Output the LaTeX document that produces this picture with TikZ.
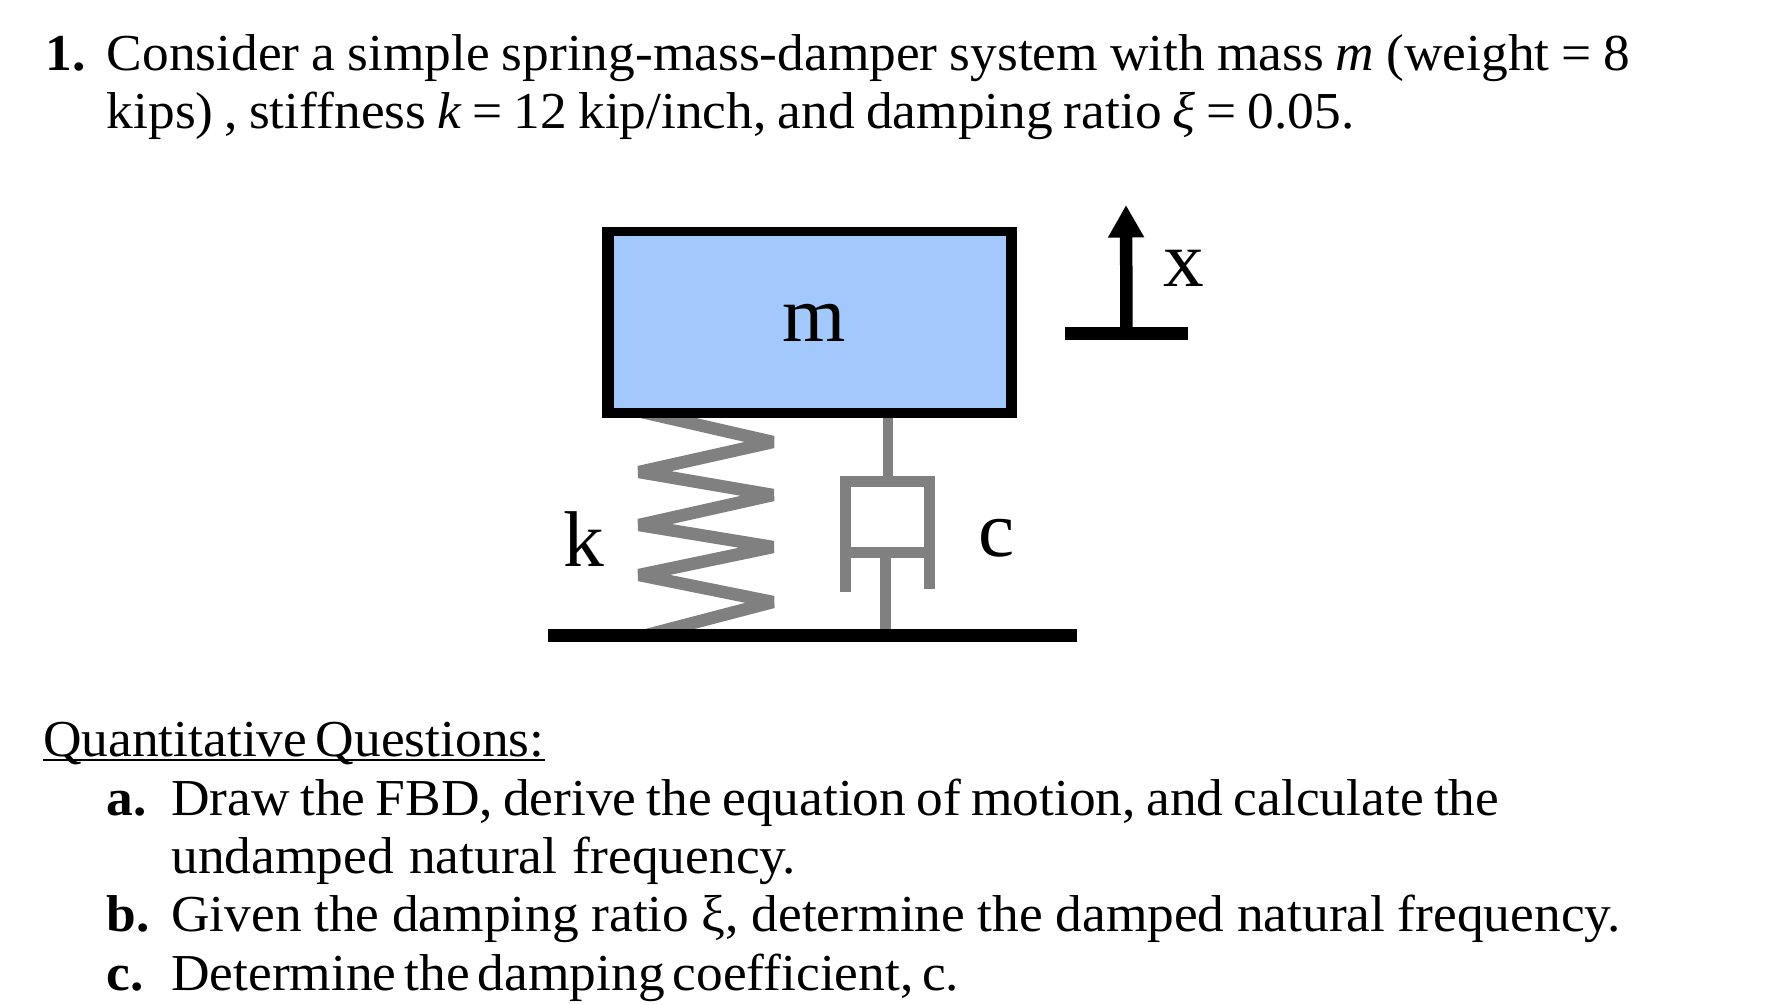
\documentclass[tikz,border=0pt]{standalone}
\usepackage{fontspec}
\setmainfont[FakeStretch=1.03,WordSpace=0.9]{Liberation Serif}
\usetikzlibrary{arrows.meta,backgrounds}
\newcommand{\fitline}[2]{\makebox[#1][s]{#2}}

\begin{document}
\begin{tikzpicture}[x=0.02cm,y=-0.02cm]
\tikzset{txt/.style={anchor=base west, inner sep=0pt, font=\fontsize{29.5}{33}\selectfont}}
\tikzset{lab/.style={anchor=base, inner sep=0pt, font=\fontsize{45}{45}\selectfont}}
\tikzset{bar/.style={fill=black, inner sep=0pt}}
\tikzset{grayline/.style={draw=black!50, line width=0.21cm}}
\useasboundingbox (0,0) rectangle (1778,1004);
\node[txt] (N1) at (45,70) {\textbf{1.}};
\node[txt] (L1) at (106.5,70) {\fitline{30.48cm}{Consider a simple spring-mass-damper system with mass \textit{m} (weight = 8}};
\node[txt] (L2) at (106.5,128) {\fitline{24.96cm}{kips) , stiffness \textit{k} = 12 kip/inch, and damping ratio \textit{ξ} = 0.05.}};
\node[bar, minimum width=8.31cm, minimum height=3.83cm] (Frame) at (809.4,322.5) {};
\node[fill={rgb,255:red,163;green,200;blue,252}, inner sep=0pt, minimum width=7.83cm, minimum height=3.45cm] (Mass) at (810,322) {};
\node[lab] (m) at (813.8,341) {m};
\node[bar, minimum width=10.59cm, minimum height=0.26cm] (Ground) at (812.2,635.5) {};
\node[bar, minimum width=2.46cm, minimum height=0.26cm] (XBar) at (1126.5,333.5) {};
\coordinate (XTip) at (1126,205);
\draw[line width=0.25cm, -{Triangle[width=0.68cm,length=0.65cm]}] (XBar.center) -- (XTip);
\node[lab] (x) at (1184,286) {x};
\node[lab] (k) at (584,566) {k};
\node[lab] (c) at (997,556) {c};
\coordinate (S0) at (642,412);
\coordinate (S1) at (773,442);
\coordinate (S2) at (639,472);
\coordinate (S3) at (773,495);
\coordinate (S4) at (639,525);
\coordinate (S5) at (773,547);
\coordinate (S6) at (639,575);
\coordinate (S7) at (773,602);
\coordinate (S8) at (643,636);
\coordinate (Rod1) at (888.2,476);
\coordinate (Rod2) at (885.5,558);
\coordinate (C1) at (845.3,592);
\coordinate (C2) at (845.3,481.3);
\coordinate (C3) at (929.3,481.3);
\coordinate (C4) at (929.3,589);
\coordinate (P1) at (845.3,552.5);
\coordinate (P2) at (929.3,552.5);
\begin{scope}[on background layer]
\draw[grayline, line width=0.25cm, line join=bevel] (S0) -- (S1) -- (S2) -- (S3) -- (S4) -- (S5) -- (S6) -- (S7) -- (S8);
\draw[grayline] (Frame.center -| Rod1) -- (Rod1);
\draw[grayline] (C1) -- (C2) -- (C3) -- (C4);
\draw[grayline] (P1) -- (P2);
\draw[grayline] (Rod2) -- (Ground.center -| Rod2);
\end{scope}
\node[txt] (Quant) at (43,756) {\fitline{10.02cm}{Quantitative Questions:}};
\draw[line width=0.054cm] ([yshift=-0.08cm]Quant.base west) -- ([yshift=-0.08cm]Quant.base east);
\node[txt] (Na) at (106.5,815) {\textbf{a.}};
\node[txt] (La) at (171,815) {\fitline{26.56cm}{Draw the FBD, derive the equation of motion, and calculate the}};
\node[txt] (La2) at (171,873) {\fitline{12.5cm}{undamped natural frequency.}};
\node[txt] (Nb) at (106.5,931) {\textbf{b.}};
\node[txt] (Lb) at (171,931) {\fitline{29cm}{Given the damping ratio ξ, determine the damped natural frequency.}};
\node[txt] (Nc) at (106.5,990) {\textbf{c.}};
\node[txt] (Lc) at (171,990) {\fitline{15.76cm}{Determine the damping coefficient, c.}};
\end{tikzpicture}
\end{document}
